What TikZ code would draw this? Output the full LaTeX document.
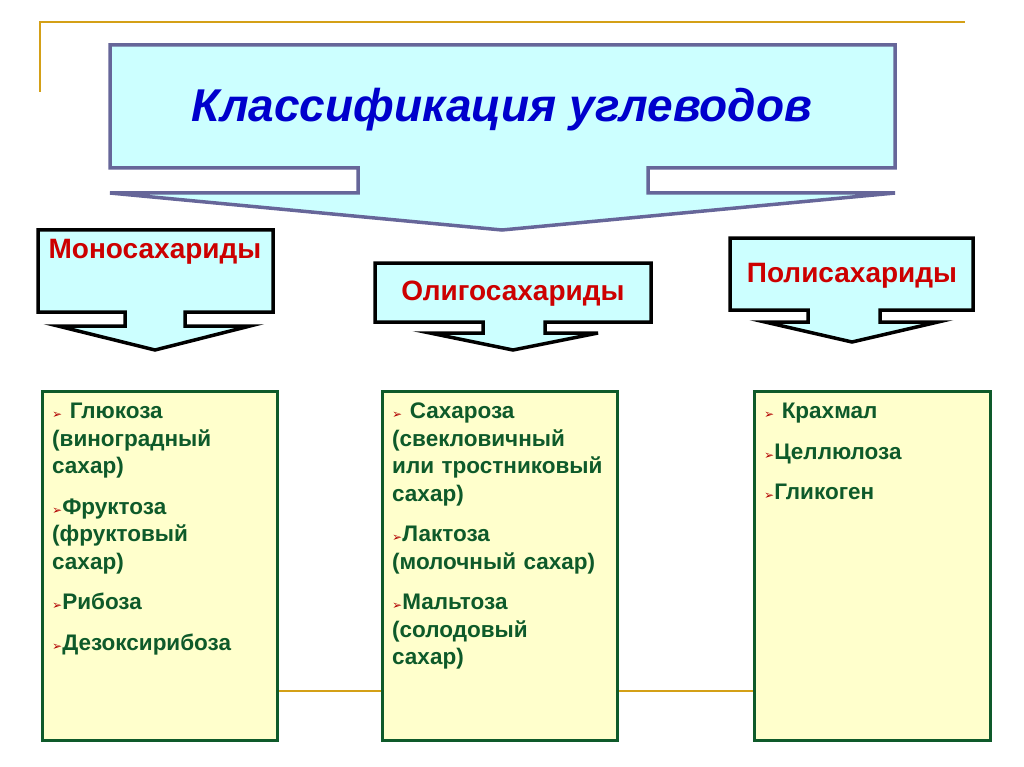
\documentclass[tikz,border=0pt]{standalone}
\usepackage{fontspec}
\setmainfont{Liberation Sans}
\newfontfamily\symf{DejaVu Sans}
\definecolor{cy}{HTML}{CCFFFF}
\definecolor{pale}{HTML}{FFFFCC}
\definecolor{dg}{HTML}{0E5A2A}
\definecolor{gold}{HTML}{D4A017}
\definecolor{slate}{HTML}{666699}
\newcommand{\bul}{{\symf\color{red!70!black}\fontsize{12}{12}\selectfont ➢}}
\begin{document}
\begin{tikzpicture}[x=1pt,y=-1pt,
  call/.style={fill=cy,draw=black,line width=3.5pt,line join=miter},
  listbox/.style={fill=pale,draw=dg,line width=3pt},
  listtxt/.style={anchor=north west,align=left,text width=230pt,inner sep=0pt,text=dg,font=\bfseries\fontsize{22.5}{27.5}\selectfont},
  head/.style={text=red!80!black,font=\bfseries\fontsize{28}{30}\selectfont}]
\useasboundingbox (0,0) rectangle (1024,767);
\draw[gold,line width=2pt] (40,92) -- (40,22) -- (965,22);
\draw[gold,line width=2pt] (277,691) -- (382,691) (617,691) -- (754,691);
% title callout
\draw[call,draw=slate] (110,45)--(895,45)--(895,168)--(648,168)--(648,193)--(895,193)--(502,230)--(110,193)--(358,193)--(358,168)--(110,168)--cycle;
\node (title) at (502,110) {\color{blue!80!black}\bfseries\itshape\fontsize{46}{50}\selectfont Классификация углеводов};
% mono
\draw[call] (38,230)--(273,230)--(273,312)--(185,312)--(185,326)--(250,326)--(155,350)--(58,326)--(125,326)--(125,312)--(38,312)--cycle;
\node[head] (mono) at (155,252) {Моносахариды};
% oligo
\draw[call] (375,263)--(651,263)--(651,322)--(545,322)--(545,333)--(598,333)--(513,350)--(430,333)--(483,333)--(483,322)--(375,322)--cycle;
\node[head] (oligo) at (513,294) {Олигосахариды};
% poly
\draw[call] (730,238)--(973,238)--(973,310)--(880,310)--(880,322)--(938,322)--(852,342)--(765,322)--(808,322)--(808,310)--(730,310)--cycle;
\node[head] (poly) at (852,276) {Полисахариды};
% lists
\draw[listbox] (42,391) rectangle (277,740);
\draw[listbox] (382,391) rectangle (617,740);
\draw[listbox] (754,391) rectangle (990,740);
\node[listtxt] (l1) at (52,403) {\bul\ Глюкоза\\(виноградный\\сахар)\\[13pt]\bul Фруктоза\\(фруктовый\\сахар)\\[13pt]\bul Рибоза\\[13pt]\bul Дезоксирибоза};
\node[listtxt] (l2) at (392,403) {\bul\ Сахароза\\(свекловичный\\или тростниковый\\сахар)\\[13pt]\bul Лактоза\\(молочный сахар)\\[13pt]\bul Мальтоза\\(солодовый\\сахар)};
\node[listtxt] (l3) at (764,403) {\bul\ Крахмал\\[13pt]\bul Целлюлоза\\[13pt]\bul Гликоген};
\end{tikzpicture}
\end{document}
